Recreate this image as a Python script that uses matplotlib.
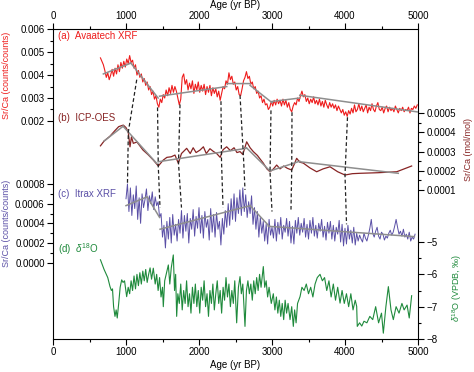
import numpy as np
import matplotlib.pyplot as plt

plt.rcParams['font.family'] = ['Liberation Sans', 'DejaVu Sans']
plt.rcParams['mathtext.fontset'] = 'custom'
plt.rcParams['mathtext.rm'] = 'Liberation Sans'
plt.rcParams['mathtext.it'] = 'Liberation Sans:italic'
plt.rcParams['font.size'] = 7

# ---- (a) Avaatech XRF, Sr/Ca (x1e-3 counts/counts), 20 yr steps from 650 ----
red_val = [4.75, 4.6, 4.45, 4.2, 3.9, 4.1, 3.8, 4.0, 4.25, 3.95,
           4.3, 4.05, 4.45, 4.15, 4.55, 4.3, 4.6, 4.35, 4.7, 4.5,
           4.85, 4.55, 4.65, 4.3, 4.45, 4.0, 4.2, 3.9, 4.05, 3.7,
           3.85, 3.55, 3.7, 3.35, 3.5, 3.15, 3.3, 2.95, 3.1, 2.75,
           2.6, 2.95, 2.8, 3.15, 3.0, 3.35, 3.1, 3.45, 3.2, 3.55,
           3.25, 3.5, 3.3, 3.0, 2.7, 2.95, 3.9, 4.05, 3.6, 3.8,
           3.35, 3.65, 3.4, 3.75, 3.2, 3.6, 3.35, 3.7, 3.25, 3.55,
           3.3, 3.6, 3.15, 3.5, 3.25, 3.55, 3.1, 3.45, 3.2, 3.4,
           3.05, 3.3, 2.9, 3.2, 3.5, 3.4, 3.75, 3.6, 4.1, 3.8,
           3.95, 3.6, 3.7, 3.35, 3.5, 3.15, 3.1, 3.4, 3.75, 3.9,
           4.15, 3.85, 3.95, 3.6, 3.7, 3.4, 3.5, 3.2, 3.3, 3.0,
           3.1, 2.8, 2.95, 2.7, 2.75, 2.5, 2.6, 2.85, 2.65, 2.9,
           2.7, 2.95, 2.75, 2.9, 2.65, 2.95, 2.7, 2.9, 2.6, 2.8,
           2.5, 2.4, 2.65, 2.8, 2.7, 3.0, 2.85, 3.1, 3.3, 3.05,
           3.15, 2.85, 3.0, 2.75, 2.95, 2.8, 3.05, 2.75, 2.9, 2.7,
           2.95, 2.65, 2.85, 2.6, 2.9, 2.7, 2.55, 2.8, 2.6, 2.75,
           2.55, 2.7, 2.45, 2.65, 2.5, 2.35, 2.5, 2.25, 2.4, 2.2,
           2.45, 2.3, 2.55, 2.35, 2.7, 2.4, 2.5, 2.75, 2.45, 2.65,
           2.4, 2.55, 2.7, 2.35, 2.6, 2.45, 2.75, 2.5, 2.4, 2.65,
           2.8, 2.5, 2.45, 2.6, 2.35, 2.55, 2.65, 2.4, 2.6, 2.45,
           2.55, 2.4, 2.65, 2.5, 2.35, 2.55, 2.45, 2.6, 2.4, 2.5,
           2.45, 2.6, 2.35, 2.55, 2.5, 2.65, 2.55, 2.7]
red_age = np.linspace(650, 4990, len(red_val))

# ---- (b) ICP-OES, Sr/Ca (x1e-4 mol/mol) ----
brown_age = [650, 700, 780, 850, 900, 963, 1000, 1030, 1055, 1075, 1100, 1150, 1233, 1300,
             1374, 1443, 1511, 1560, 1620, 1671, 1717, 1760, 1831, 1880, 1920, 1960, 2014,
             2060, 2100, 2150, 2200, 2242, 2290, 2330, 2379, 2430, 2480, 2520, 2562, 2600,
             2653, 2700, 2744, 2800, 2850, 2881, 2930, 2973, 3020, 3064, 3110, 3160, 3210,
             3270, 3300, 3338, 3380, 3429, 3520, 3612, 3700, 3795, 3900, 4000, 4100, 4205,
             4450, 4708, 4913]
brown_val = [3.3, 3.55, 3.8, 4.1, 4.3, 4.38, 4.25, 4.03, 3.25, 3.77, 3.43, 3.5, 3.08, 2.85,
             2.56, 2.25, 2.56, 2.7, 2.73, 2.82, 2.39, 2.9, 3.17, 2.9, 3.2, 2.95, 3.08,
             3.25, 2.9, 3.15, 3.0, 2.9, 2.7, 3.1, 3.25, 3.05, 3.2, 2.95, 3.0, 2.85,
             3.51, 3.2, 3.0, 2.8, 2.55, 2.4, 2.1, 1.95, 2.1, 2.3, 2.1, 2.25, 2.13,
             2.04, 2.3, 2.65, 2.45, 2.4, 2.15, 1.95, 2.1, 2.21, 1.95, 1.78, 1.85, 1.87,
             1.9, 1.95, 2.25]

# ---- (c) Itrax XRF, Sr/Ca (x1e-4 counts/counts), 20 yr steps from 1000 ----
blue_val = [6.5, 8.0, 5.2, 7.6, 4.8, 6.9, 5.5, 7.8, 4.4, 6.6,
            4.0, 7.0, 5.6, 6.4, 7.5, 5.3, 6.8, 6.0, 7.2, 5.4,
            6.7, 5.8, 6.2, 4.6, 5.0, 2.6, 3.8, 1.5, 4.2, 2.4,
            4.6, 2.0, 4.9, 2.8, 3.9, 2.2, 4.4, 3.0, 5.3, 2.5,
            4.8, 3.2, 5.0, 2.0, 4.5, 3.4, 5.4, 2.7, 4.7, 3.5,
            5.6, 3.0, 4.8, 2.5, 5.2, 3.6, 4.4, 2.3, 5.5, 3.1,
            4.9, 2.6, 5.1, 3.4, 4.2, 1.8, 4.5, 2.9, 5.3, 3.6,
            6.0, 3.8, 6.5, 4.4, 7.0, 4.2, 6.6, 5.0, 7.4, 4.8,
            7.6, 5.2, 6.9, 4.6, 6.2, 5.0, 6.8, 3.9, 5.6, 3.4,
            5.2, 2.6, 4.6, 3.0, 4.2, 2.2, 3.9, 1.9, 4.4, 2.8,
            3.6, 2.5, 4.4, 2.2, 4.1, 2.9, 4.6, 2.4, 3.8, 3.1,
            4.5, 2.7, 4.2, 2.0, 3.7, 1.9, 4.3, 3.0, 4.6, 2.8,
            4.0, 3.1, 4.5, 2.6, 3.9, 2.4, 4.3, 3.0, 4.6, 2.7,
            3.8, 2.5, 4.0, 3.2, 4.4, 2.6, 3.7, 2.3, 4.1, 3.0,
            4.2, 2.4, 3.8, 2.2, 3.6, 2.9, 4.3, 2.1, 3.9, 1.7,
            3.5, 1.9, 3.8, 2.4, 3.3, 2.0, 3.6, 1.8, 3.0, 2.2,
            2.8, 2.4, 2.1, 3.0, 2.5, 2.2, 2.8, 3.5, 4.4, 3.0,
            2.6, 3.2, 3.6, 2.7, 2.4, 3.1, 2.9, 2.3, 2.7, 2.5,
            3.0, 3.3, 2.8, 3.1, 3.7, 4.4, 3.6, 2.9, 3.2, 2.7,
            3.4, 2.6, 2.9, 2.4, 3.1, 2.2, 2.6, 2.4, 2.9]
blue_age = np.linspace(1000, 4960, len(blue_val))

# ---- (d) d18O (permil VPDB) ----
green_age = [650, 700, 750, 781, 800, 815, 830, 849, 865, 880, 900, 920, 941, 960, 980, 1009,
             1030, 1050, 1070, 1090, 1110, 1130, 1150, 1170, 1190, 1210, 1230, 1250, 1270,
             1290, 1310, 1330, 1350, 1374, 1400, 1420, 1440, 1460, 1480, 1500, 1511, 1530,
             1550, 1580, 1600, 1620, 1648, 1665, 1680, 1694, 1710, 1730, 1750, 1770, 1790,
             1810, 1830, 1850, 1870, 1890, 1910, 1930, 1950, 1970, 1990, 2010, 2030, 2050,
             2070, 2090, 2110, 2130, 2150, 2170, 2190, 2210, 2230, 2250, 2270, 2290, 2310,
             2330, 2350, 2370, 2390, 2410, 2430, 2450, 2470, 2490, 2516, 2540, 2562, 2580,
             2600, 2630, 2650, 2670, 2690, 2710, 2730, 2750, 2770, 2790, 2810, 2830, 2850,
             2881, 2900, 2920, 2940, 2960, 2990, 3018, 3040, 3060, 3080, 3100, 3120, 3140,
             3160, 3180, 3200, 3220, 3247, 3270, 3292, 3310, 3330, 3350, 3384, 3410, 3440,
             3470, 3500, 3530, 3560, 3590, 3620, 3658, 3690, 3720, 3750, 3780, 3810, 3840,
             3870, 3900, 3932, 3960, 3990, 4020, 4050, 4080, 4110, 4140, 4160, 4168, 4200,
             4230, 4260, 4300, 4340, 4380, 4420, 4460, 4500, 4525, 4560, 4594, 4630, 4662,
             4700, 4740, 4780, 4810, 4850, 4880, 4913]
green_val = [-5.55, -5.85, -6.1, -6.38, -6.5, -6.45, -7.0, -7.3, -7.1, -7.35, -6.9, -6.4, -6.17,
             -6.25, -6.2, -6.69, -6.4, -6.6, -6.2, -6.5, -6.05, -6.45, -6.0, -6.35, -5.95, -6.3,
             -5.9, -6.2, -5.85, -6.25, -6.0, -5.8, -6.15, -5.81, -6.3, -6.0, -6.5, -6.1, -6.7,
             -6.4, -7.0, -6.2, -6.0, -5.71, -6.3, -5.8, -5.4, -6.5, -6.0, -7.3, -6.6, -6.9,
             -6.3, -7.1, -6.5, -6.9, -6.2, -7.0, -6.6, -7.2, -6.4, -6.9, -6.3, -7.0, -6.5,
             -7.2, -6.4, -6.8, -6.2, -7.0, -6.6, -7.3, -6.5, -6.9, -6.3, -7.1, -6.6, -6.2,
             -6.9, -6.5, -7.2, -6.4, -6.8, -6.1, -6.7, -6.3, -7.0, -6.5, -6.9, -6.2, -7.5,
             -6.4, -6.07, -6.6, -6.3, -7.61, -6.5, -6.2, -6.6, -6.3, -6.8, -6.2, -6.6, -6.1,
             -6.5, -6.0, -6.4, -5.76, -6.4, -6.2, -6.7, -6.4, -6.9, -6.6, -7.1, -6.7, -7.2,
             -6.8, -7.3, -6.9, -7.4, -6.8, -7.2, -6.9, -7.4, -7.0, -7.61, -7.1, -7.5, -6.9,
             -6.69, -6.4, -6.5, -6.3, -6.6, -6.4, -6.7, -6.3, -6.1, -6.0, -6.2, -6.1, -6.5,
             -6.2, -6.7, -6.3, -6.8, -6.4, -6.89, -6.5, -6.9, -6.6, -7.0, -6.6, -7.1, -6.8,
             -6.99, -7.61, -7.5, -7.6, -7.45, -7.5, -7.3, -7.4, -7.0, -7.5, -7.2, -7.82, -7.0,
             -6.38, -7.1, -7.4, -7.0, -7.2, -6.9, -7.1, -6.95, -7.35, -6.66]

# ---- grey trend segments (nan = break) ----
nan = np.nan
trend_a_age = [690, 1050, nan, 1060, 1440, nan, 1460, 2380, nan, 2380, 2700, nan,
               2700, 3000, nan, 3000, 3380, nan, 3380, 5000]
trend_a_val = [4.05, 4.5, nan, 4.55, 3.0, nan, 3.08, 3.5, nan, 3.63, 3.63, nan,
               3.55, 2.8, nan, 2.85, 3.0, nan, 3.12, 2.39]
trend_b_age = [700, 960, nan, 960, 1420, nan, 1440, 2650, nan, 2650, 2970, nan,
               2980, 3380, nan, 3384, 4730]
trend_b_val = [3.55, 4.32, nan, 4.32, 2.39, nan, 2.47, 3.17, nan, 3.2, 2.0, nan,
               2.0, 2.5, nan, 2.47, 1.87]
trend_c_age = [1000, 1290, 1460, nan, 1466, 2700, nan, 2700, 2950, nan, 2950, 4950]
trend_c_val = [5.8, 6.7, 4.6, nan, 3.4, 5.8, nan, 5.8, 3.8, nan, 3.7, 2.65]

# ---- dashed tie points in each panel ----
tie_age_a = [1147, 1432, 1740, 2301, 2562, 2986, 3274, 4034]
tie_a = [3.8, 2.59, 2.72, 2.86, 3.12, 2.46, 2.38, 2.16]
tie_age_b = [1032, 1442, 1719, 2308, 2610, 2973, 3270, 4000]
tie_b = [4.03, 2.25, 2.4, 2.56, 2.66, 1.95, 2.04, 1.78]
tie_age_c = [1020, 1466, 1760, 2329, 2630, 3000, 3260, 4021]
tie_c = [8.0, 5.6, 5.6, 5.6, 7.4, 5.2, 5.4, 3.9]

c_red = '#ee1c1c'
c_brown = '#872424'
c_blue = '#5a4fa6'
c_green = '#1f8a3c'
c_grey = '#8e8e8e'

fig = plt.figure(figsize=(4.74, 3.72), dpi=100)
ax = fig.add_axes([53 / 474, 33 / 372, 365 / 474, 310 / 372])
ax.set_xlim(0, 5000)
ax.set_ylim(0, 1)
ax.set_yticks([])
ax.set_xticks(np.arange(0, 5001, 1000))
ax.set_xticks(np.arange(500, 5000, 1000), minor=True)
ax.tick_params(axis='x', which='both', direction='out', top=True, labeltop=True,
               bottom=True, labelbottom=True, width=0.8, pad=2)
ax.tick_params(axis='x', which='major', length=4)
ax.tick_params(axis='x', which='minor', length=2.5)
for s in ax.spines.values():
    s.set_linewidth(0.8)
ax.text(0.5, 1.077, 'Age (yr BP)', transform=ax.transAxes, ha='center', va='center')
ax.text(0.5, -0.084, 'Age (yr BP)', transform=ax.transAxes, ha='center', va='center')


def twin(lim, side, ticks, labels, minor):
    t = ax.twinx()
    t.set_ylim(lim)
    for s in t.spines.values():
        s.set_visible(False)
    t.yaxis.set_ticks_position(side)
    t.set_yticks(ticks, labels)
    t.set_yticks(minor, minor=True)
    t.tick_params(axis='y', which='both', direction='out', width=0.8, pad=2)
    t.tick_params(axis='y', which='major', length=4)
    t.tick_params(axis='y', which='minor', length=2.5)
    return t


ax_b = twin((-0.000676, 0.0009385), 'right',
            [0.0001, 0.0002, 0.0003, 0.0004, 0.0005],
            ['0.0001', '0.0002', '0.0003', '0.0004', '0.0005'],
            [0.00015, 0.00025, 0.00035, 0.00045])
ax_a = twin((-0.00751, 0.00601), 'left',
            [0.002, 0.003, 0.004, 0.005, 0.006],
            ['0.002', '0.003', '0.004', '0.005', '0.006'],
            [0.0025, 0.0035, 0.0045, 0.0055])
ax_d = twin((-8.0, 1.588), 'right',
            [-8, -7, -6, -5], ['\u22128', '\u22127', '\u22126', '\u22125'],
            [-7.5, -6.5, -5.5])
ax_c = twin((-0.000776, 0.002376), 'left',
            [0.0, 0.0002, 0.0004, 0.0006, 0.0008],
            ['0.0000', '0.0002', '0.0004', '0.0006', '0.0008'],
            [0.0001, 0.0003, 0.0005, 0.0007])

ax_a.plot(red_age, np.array(red_val) * 1e-3, color=c_red, lw=0.8)
ax_a.plot(trend_a_age, np.array(trend_a_val) * 1e-3, color=c_grey, lw=1.1)
ax_b.plot(brown_age, np.array(brown_val) * 1e-4, color=c_brown, lw=0.9)
ax_b.plot(trend_b_age, np.array(trend_b_val) * 1e-4, color=c_grey, lw=1.1)
ax_c.plot(blue_age, np.array(blue_val) * 1e-4, color=c_blue, lw=0.7)
ax_c.plot(trend_c_age, np.array(trend_c_val) * 1e-4, color=c_grey, lw=1.1)
ax_d.plot(green_age, green_val, color=c_green, lw=0.8)

# dashed tie lines, mapped from each panel into the main axes
inv = ax.transData.inverted()
for i in range(len(tie_age_a)):
    pts = [ax_a.transData.transform((tie_age_a[i], tie_a[i] * 1e-3)),
           ax_b.transData.transform((tie_age_b[i], tie_b[i] * 1e-4)),
           ax_c.transData.transform((tie_age_c[i], tie_c[i] * 1e-4))]
    xy = inv.transform(np.array(pts))
    ax_c.plot(xy[:, 0], xy[:, 1], color='#222222', lw=0.9, ls=(0, (3, 2)),
              transform=ax.transData)

# panel labels
ax.text(0.014, 0.977, '(a)  Avaatech XRF', color=c_red, transform=ax.transAxes, va='center')
ax.text(0.014, 0.713, '(b)  ICP-OES', color=c_brown, transform=ax.transAxes, va='center')
ax.text(0.014, 0.468, '(c)  Itrax XRF', color=c_blue, transform=ax.transAxes, va='center')
ax.text(0.014, 0.29, r'(d)  $\delta^{18}$O', color=c_green, transform=ax.transAxes, va='center')

# axis titles
ax.text(-0.127, 0.852, 'Sr/Ca (counts/counts)', color=c_red, rotation=90, fontsize=6.5,
        transform=ax.transAxes, ha='center', va='center')
ax.text(-0.127, 0.374, 'Sr/Ca (counts/counts)', color=c_blue, rotation=90, fontsize=6.5,
        transform=ax.transAxes, ha='center', va='center')
ax.text(1.137, 0.61, 'Sr/Ca (mol/mol)', color=c_brown, rotation=90, fontsize=6.5,
        transform=ax.transAxes, ha='center', va='center')
ax.text(1.106, 0.165, r'$\delta^{18}$O (VPDB, ‰)', color=c_green, rotation=90, fontsize=6.5,
        transform=ax.transAxes, ha='center', va='center')

fig.savefig('out.png', dpi=100)
